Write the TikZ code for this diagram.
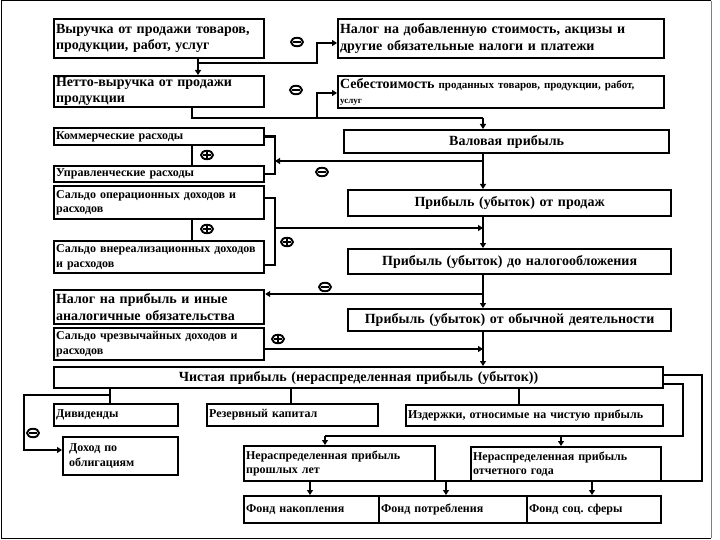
\documentclass[tikz,border=0pt]{standalone}
\usepackage{fontspec}
\setmainfont{Liberation Serif}
\usetikzlibrary{arrows.meta,shapes.geometric}
\newcommand\fsz[2]{\fontsize{#1}{#2}\selectfont}
\tikzset{
  box/.style={draw, line width=2.2pt, fill=white, anchor=north west, inner xsep=2pt, inner ysep=0pt, align=left, font=\bfseries\fsz{12}{14.5}},
  bigtxt/.style={font=\bfseries\fsz{14}{16.5}},
  midtxt/.style={font=\bfseries\fsz{14}{16}, align=center},
  conn/.style={line width=2.5pt},
  thinconn/.style={line width=2pt},
  arr/.style={-{Triangle[length=5pt,width=6pt]}},
  signshape/.style={draw, ellipse, line width=1.9pt, minimum width=12pt, minimum height=8.5pt, inner sep=0pt},
  minussign/.style={signshape, path picture={\draw[line width=1.7pt] ([xshift=2pt]path picture bounding box.west) -- ([xshift=-2pt]path picture bounding box.east);}},
  plussign/.style={signshape, path picture={\draw[line width=1.7pt] ([xshift=2pt]path picture bounding box.west) -- ([xshift=-2pt]path picture bounding box.east); \draw[line width=1.4pt] (path picture bounding box.north) -- (path picture bounding box.south);}},
}
\begin{document}
\begin{tikzpicture}[x=1pt,y=-1pt]
\fill[white] (0,0) rectangle (720,540);
\useasboundingbox (0,0) rectangle (720,540);
\draw[line width=1pt] (1,1) -- (711,1);
\draw[line width=1pt] (1,1) -- (1,538) -- (711,538);
\draw[line width=1pt, gray] (711,1) -- (711,538);

% boxes
\node[box, bigtxt, minimum width=210pt, minimum height=39pt, text width=206pt] (b1) at (53,18) {Выручка от продажи товаров,\\продукции, работ, услуг};
\node[box, bigtxt, minimum width=326pt, minimum height=39pt, text width=322pt] (b2) at (337,18) {Налог на добавленную стоимость, акцизы и\\другие обязательные налоги и платежи};
\node[box, bigtxt, minimum width=210pt, minimum height=31pt, text width=206pt] (b3) at (53,75) {Нетто-выручка от продажи\\продукции};
\node[box, minimum width=326pt, minimum height=32pt, text width=322pt] (b4) at (337,75) {{\fsz{14}{15}Себестоимость} {\fsz{11}{15}проданных товаров, продукции, работ,}\\{\fsz{9}{11}услуг}};
\node[box, minimum width=210pt, minimum height=17pt, text width=206pt] (b5) at (53,127) {Коммерческие расходы};
\node[box, midtxt, minimum width=325pt, minimum height=23pt, text width=321pt] (b6) at (343,129) {Валовая прибыль};
\node[box, minimum width=210pt, minimum height=16pt, text width=206pt] (b7) at (53,165) {Управленческие расходы};
\node[box, minimum width=210pt, minimum height=33pt, text width=206pt] (b8) at (53,185) {Сальдо операционных доходов и\\расходов};
\node[box, midtxt, minimum width=323pt, minimum height=26pt, text width=319pt] (b9) at (347,189) {Прибыль (убыток) от продаж};
\node[box, minimum width=210pt, minimum height=32pt, text width=206pt] (b10) at (53,240) {Сальдо внереализационных доходов\\и расходов};
\node[box, midtxt, minimum width=323pt, minimum height=25pt, text width=319pt] (b11) at (347,248) {Прибыль (убыток) до налогообложения};
\node[box, bigtxt, minimum width=210pt, minimum height=34pt, text width=206pt] (b12) at (53,289) {Налог на прибыль и иные\\аналогичные обязательства};
\node[box, minimum width=210pt, minimum height=32pt, text width=206pt] (b13) at (53,327) {Сальдо чрезвычайных доходов и\\расходов};
\node[box, midtxt, minimum width=323pt, minimum height=22pt, text width=319pt] (b14) at (347,308) {Прибыль (убыток) от обычной деятельности};
\node[box, midtxt, minimum width=609pt, minimum height=21pt, text width=605pt] (b15) at (53,366) {Чистая прибыль (нераспределенная прибыль (убыток))};
\node[box, minimum width=124pt, minimum height=22pt, text width=120pt] (b16) at (53,403) {Дивиденды};
\node[box, minimum width=171pt, minimum height=22pt, text width=167pt] (b17) at (206,403) {Резервный капитал};
\node[box, minimum width=257pt, minimum height=21pt, text width=253pt] (b18) at (405,404) {Издержки, относимые на чистую прибыль};
\node[box, inner xsep=6pt, minimum width=115pt, minimum height=38pt, text width=103pt] (b19) at (62,436) {Доход по\\облигациям};
\node[box, minimum width=191pt, minimum height=35pt, text width=187pt] (b20) at (243,445) {Нераспределенная прибыль\\прошлых лет};
\node[box, minimum width=190pt, minimum height=34pt, text width=186pt] (b21) at (470,446) {Нераспределенная прибыль\\отчетного года};
\node[box, minimum width=135pt, minimum height=27pt, text width=131pt] (b22) at (243,495) {Фонд накопления};
\node[box, minimum width=148pt, minimum height=27pt, text width=144pt] (b23) at (378,495) {Фонд потребления};
\node[box, minimum width=134pt, minimum height=27pt, text width=130pt] (b24) at (526,495) {Фонд соц.\ сферы};

% signs
\node[minussign] (m1) at (297,42) {};
\node[minussign] (m2) at (296,90) {};
\node[plussign] (p1) at (207,155) {};
\node[minussign] (m3) at (322,172) {};
\node[plussign] (p2) at (207,229) {};
\node[plussign] (p3) at (287,242) {};
\node[minussign] (m4) at (325,287) {};
\node[plussign] (p4) at (278,339) {};
\node[minussign] (m5) at (33,433) {};

% junction coordinates
\coordinate (c1) at (198,63);
\coordinate (c3) at (317,43);
\coordinate (c4) at (192,118);
\coordinate (c5) at (317,93);
\coordinate (c6) at (483,118);
\coordinate (c7) at (192,155);
\coordinate (c8) at (275,161);
\coordinate (c9) at (483,161);
\coordinate (c10) at (275,198);
\coordinate (c11) at (275,265);
\coordinate (c12) at (275,228);
\coordinate (c13) at (483,228);
\coordinate (c14) at (483,294);
\coordinate (c15) at (483,349);
\coordinate (c16) at (702,375);
\coordinate (c17) at (702,481);
\coordinate (c18) at (683,384);
\coordinate (c19) at (683,436);
\coordinate (c20) at (325,436);
\coordinate (c21) at (561,436);
\coordinate (c22) at (310,481);
\coordinate (c22b) at (446,481);
\coordinate (c22c) at (592,481);
\coordinate (c23) at (110,395);
\coordinate (c24) at (24,450);
\coordinate (c25) at (291,395);
\coordinate (c26) at (519,395);

% connectors
\draw[conn] (c1 |- b1.south) -- (c1);
\draw[conn,arr] (c1) -- (c1 |- b3.north);
\draw[conn,arr] (c1) -| (c3) -- (c3 -| b2.west);
\draw[conn] (c4 |- b3.south) -- (c4) -- (c6);
\draw[conn,arr] (c6) -- (c6 |- b6.north);
\draw[conn,arr] (c4 -| c5) -- (c5) -- (c5 -| b4.west);

\draw[thinconn] (c7 |- b5.south) -- (c7 |- b7.north);
\draw[conn] (b5.east) -| (c8 |- b7.east) -- (b7.east);
\draw[conn] (c9 |- b6.south) -- (c9);
\draw[conn,arr] (c9) -- (c8);
\draw[conn,arr] (c9) -- (c9 |- b9.north);

\draw[thinconn] (c7 |- b8.south) -- (c7 |- b10.north);
\draw[conn] (c10 -| b8.east) -- (c10) -- (c11) -- (c11 -| b10.east);
\draw[conn,arr] (c12) -- (c13);
\draw[conn,arr] (c13 |- b9.south) -- (c13 |- b11.north);

\draw[conn] (c14 |- b11.south) -- (c14);
\draw[conn,arr] (c14) -- (c14 -| b12.east);
\draw[conn,arr] (c14) -- (c14 |- b14.north);
\draw[conn,arr] (c15 -| b13.east) -- (c15);
\draw[conn,arr] (c15 |- b14.south) -- (c15 |- b15.north);

\draw[thinconn] (c16 -| b15.east) -- (c16) -- (c17) -- (c17 -| b21.east);
\draw[conn] (c17 -| b21.east) -- (c17 -| b20.west);
\draw[thinconn] (c18 -| b15.east) -- (c18) -- (c19) -- (c20);
\draw[conn,arr] (c20) -- (c20 |- b20.north);
\draw[conn,arr] (c21) -- (c21 |- b21.north);
\draw[conn,arr] (c22) -- (c22 |- b22.north);
\draw[conn,arr] (c22b) -- (c22b |- b23.north);
\draw[conn,arr] (c22c) -- (c22c |- b24.north);

\draw[conn] (c23 |- b15.south) -- (c23 |- b16.north);
\draw[conn,arr] (c23) -| (c24) -- (c24 -| b19.west);
\draw[conn] (c25 |- b15.south) -- (c25 |- b17.north);
\draw[conn] (c26 |- b15.south) -- (c26 |- b18.north);
\end{tikzpicture}
\end{document}
